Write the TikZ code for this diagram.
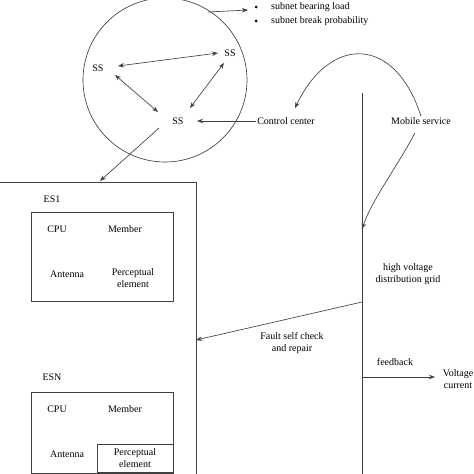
\documentclass[tikz,border=0pt]{standalone}
\usepackage{fontspec}
\setmainfont{Liberation Serif}
\usetikzlibrary{arrows.meta}
\begin{document}
\begin{tikzpicture}[x=1pt,y=-1pt,
  line/.style={draw=black!75,line width=0.65pt},
  arr/.style={line,-{Stealth[length=6pt,width=4.5pt]}},
  darr/.style={line,{Stealth[length=6pt,width=4.5pt]}-{Stealth[length=6pt,width=4.5pt]}},
  lbl/.style={font=\fontsize{10}{11.5}\selectfont,inner sep=1pt,align=center},
  box/.style={line}]
\useasboundingbox (0,0) rectangle (474,474);

% subnet circle with its stations
\draw[line] (165,80) circle (82);
\node[lbl] (ssl) at (98,68) {SS};
\node[lbl] (sst) at (230,53) {SS};
\node[lbl] (ssb) at (178,121) {SS};
\draw[darr] (118,66) -- (218,53);
\draw[darr] (115,75) -- (158,112);
\draw[darr] (224,63) -- (190,108);

% subnet indicators
\coordinate (cir) at (208,12);
\node[lbl,anchor=west] (ind1) at (270,7) {subnet bearing load};
\node[lbl,anchor=west] (ind2) at (270,21) {subnet break probability};
\fill[black] (256,7) circle (1.5);
\fill[black] (256,21) circle (1.5);
\draw[arr] (cir) -- (248,10);

% control and service
\node[lbl] (cc) at (286,121) {Control center};
\node[lbl] (ms) at (421,121) {Mobile service};
\draw[arr] (cc.west) -- (197,121);
\draw[arr] (ms.north) .. controls (395,35) and (330,35) .. (295,108);

% high voltage distribution grid
\coordinate (gtop) at (362,93);
\coordinate (gbot) at (362,476);
\draw[line] (gtop) -- (gbot);
\coordinate (gin) at (362,229);
\draw[arr] (415,133) .. controls (395,170) and (372,200) .. (gin);
\node[lbl] (hv) at (408,274) {high voltage\\distribution grid};

% edge station enclosure
\node[box,draw,minimum width=200pt,minimum height=300pt,anchor=north west,inner sep=0] (es) at (-4,182) {};
\draw[arr] (159,128) -- (100,181);

% fault repair
\coordinate (gf) at (362,302);
\draw[arr] (gf) -- (196,340);
\node[lbl] (fault) at (292,343) {Fault self check\\and repair};

% feedback
\coordinate (gfb) at (362,377);
\draw[arr] (gfb) -- (435,377);
\node[lbl] (fb) at (395,362) {feedback};
\node[lbl] (vc) at (458,379) {Voltage\\current};

% ES1
\node[lbl] (es1) at (52,199) {ES1};
\draw[box] (31,212) rectangle (173,301);
\node[lbl] (cpu1) at (57,229) {CPU};
\node[lbl] (mem1) at (125,229) {Member};
\node[lbl] (ant1) at (67,274) {Antenna};
\node[lbl] (per1) at (133,278) {Perceptual\\element};

% ESN
\node[lbl] (esn) at (52,377) {ESN};
\draw[box] (31,392) rectangle (173,473);
\node[lbl] (cpu2) at (57,409) {CPU};
\node[lbl] (mem2) at (125,409) {Member};
\node[lbl] (ant2) at (67,454) {Antenna};
\draw[box] (97,444) rectangle (173,472);
\node[lbl] (per2) at (135,458) {Perceptual\\element};
\end{tikzpicture}
\end{document}
